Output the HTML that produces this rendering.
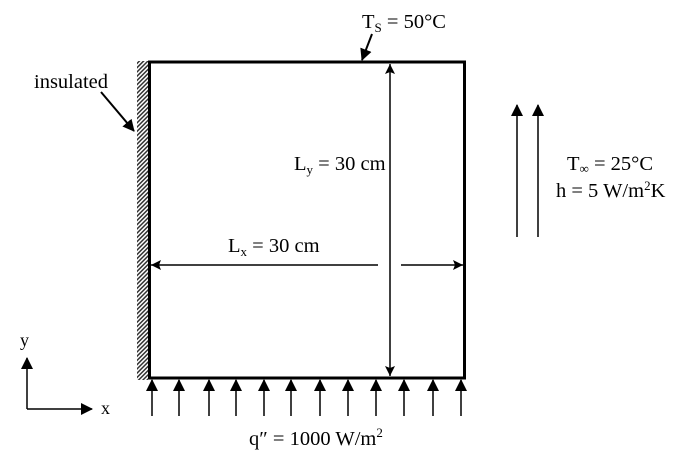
<!DOCTYPE html>
<html><head><meta charset="utf-8"><style>
html,body{margin:0;padding:0;background:#fff;width:684px;height:458px;overflow:hidden}
text{font-family:"Liberation Serif",serif;fill:#000}
</style></head><body>
<svg width="684" height="458" viewBox="0 0 684 458" xmlns="http://www.w3.org/2000/svg">
<defs>
<pattern id="h" width="3" height="3" patternUnits="userSpaceOnUse" patternTransform="rotate(45)">
<rect width="3" height="3" fill="#fff"/><rect width="1.5" height="3" fill="#333"/></pattern>
<marker id="a" markerWidth="10" markerHeight="10" refX="9" refY="5" orient="auto" markerUnits="userSpaceOnUse">
<path d="M0,0 L10,5 L0,10 L3,5 Z" fill="#000"/></marker>
<marker id="b" markerWidth="12" markerHeight="12" refX="11" refY="6" orient="auto" markerUnits="userSpaceOnUse">
<path d="M0,0 L12,6 L0,12 Z" fill="#000"/></marker>
</defs>
<rect x="137" y="61" width="11" height="319" fill="url(#h)"/>
<rect x="149.5" y="62" width="315" height="316" fill="none" stroke="#000" stroke-width="3"/>
<line x1="390" y1="64" x2="390" y2="376" stroke="#000" stroke-width="1.5"/>
<path d="M390,64 L385,74 L390,72 L395,74 Z M390,376 L385,366 L390,368 L395,366 Z" fill="#000"/>
<line x1="151" y1="265" x2="378" y2="265" stroke="#000" stroke-width="1.5"/>
<line x1="401" y1="265" x2="463" y2="265" stroke="#000" stroke-width="1.5"/>
<path d="M151,265 L161,260 L159,265 L161,270 Z M463,265 L453,260 L455,265 L453,270 Z" fill="#000"/>
<g stroke="#000" stroke-width="1.5" marker-end="url(#b)">
<line x1="152" y1="416" x2="152" y2="380"/><line x1="179" y1="416" x2="179" y2="380"/>
<line x1="209" y1="416" x2="209" y2="380"/><line x1="236" y1="416" x2="236" y2="380"/>
<line x1="264" y1="416" x2="264" y2="380"/><line x1="291" y1="416" x2="291" y2="380"/>
<line x1="320" y1="416" x2="320" y2="380"/><line x1="348" y1="416" x2="348" y2="380"/>
<line x1="376" y1="416" x2="376" y2="380"/><line x1="404" y1="416" x2="404" y2="380"/>
<line x1="433" y1="416" x2="433" y2="380"/><line x1="461" y1="416" x2="461" y2="380"/>
<line x1="517" y1="237" x2="517" y2="105"/><line x1="538" y1="237" x2="538" y2="105"/>
<line x1="27" y1="409" x2="27" y2="358"/><line x1="27" y1="409" x2="92" y2="409"/>
</g>
<g stroke="#000" stroke-width="2" marker-end="url(#b)">
<line x1="101" y1="92" x2="134" y2="131"/>
<line x1="372" y1="34" x2="362" y2="60"/>
</g>
<text x="34" y="88" font-size="20.5">insulated</text>
<text x="362" y="28" font-size="20.5">T<tspan font-size="13" dy="4">S</tspan><tspan dy="-4"> = 50°C</tspan></text>
<text x="294" y="170" font-size="20.5">L<tspan font-size="13" dy="4">y</tspan><tspan dy="-4"> = 30 cm</tspan></text>
<text x="228" y="252" font-size="20.5">L<tspan font-size="13" dy="4">x</tspan><tspan dy="-4"> = 30 cm</tspan></text>
<text x="567" y="170" font-size="20.5">T<tspan font-size="13" dy="3">∞</tspan><tspan dy="-3"> = 25°C</tspan></text>
<text x="556" y="197" font-size="20.5">h = 5 W/m<tspan font-size="13" dy="-7">2</tspan><tspan dy="7">K</tspan></text>
<text x="249" y="445" font-size="20.5">q″ = 1000 W/m<tspan font-size="13" dy="-8">2</tspan></text>
<text x="20" y="346" font-size="18">y</text>
<text x="101" y="414" font-size="18">x</text>
</svg>
</body></html>
